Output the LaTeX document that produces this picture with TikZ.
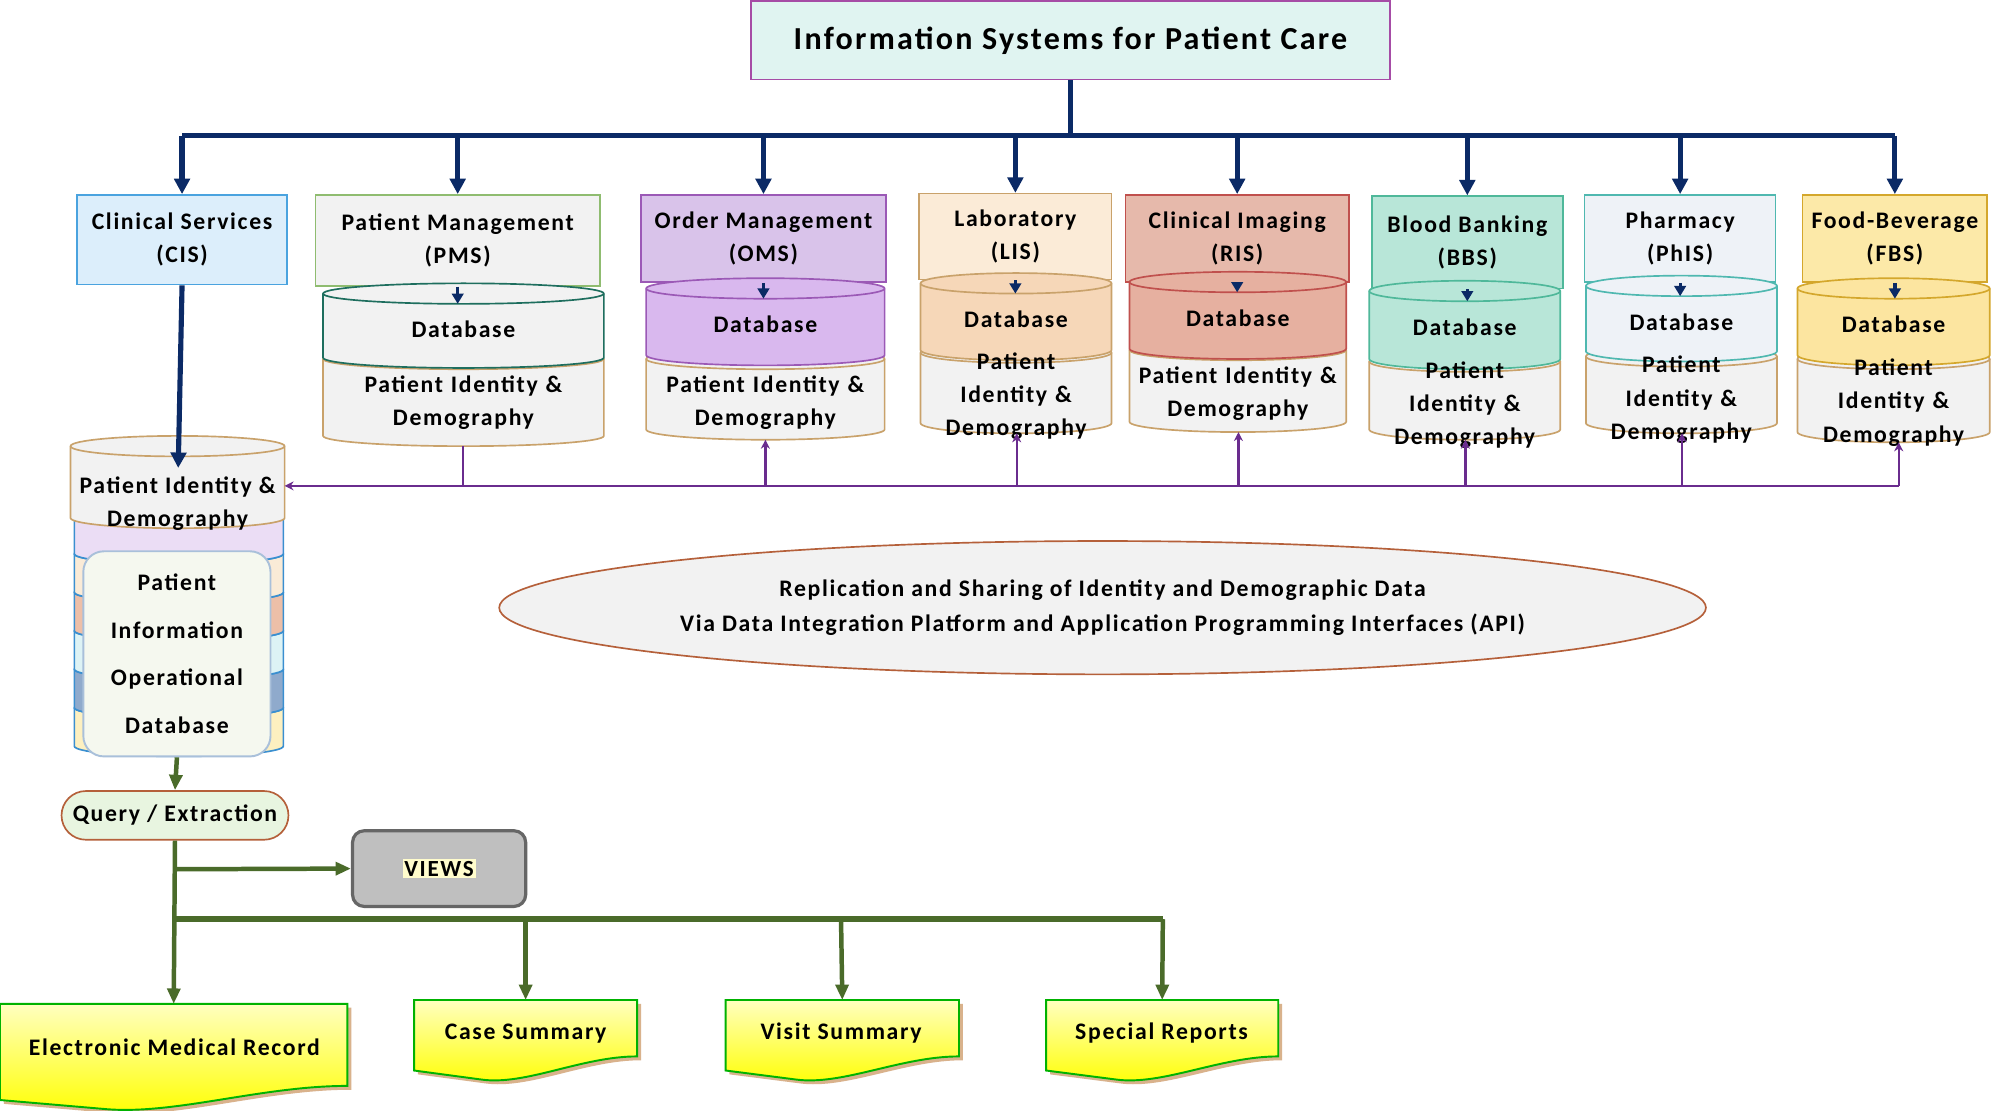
\documentclass[tikz,border=0pt]{standalone}
\usepackage{fontspec}
\setmainfont{Carlito}[LetterSpace=7]
\usetikzlibrary{arrows.meta,shapes.misc,shapes.geometric}
\definecolor{navy}{HTML}{0B2A66}
\definecolor{pur}{HTML}{6A2C8E}
\definecolor{grn}{HTML}{4A6B2A}
\newcommand\mycyl[6]{% x1 ytop x2 ybot fill draw
  \pgfmathsetmacro\rx{(#3-#1)/2}
  \pgfmathsetmacro\yyt{-(#2)}
  \pgfmathsetmacro\yyb{-(#4)}
  \filldraw[fill=#5,draw=#6,line width=1.3pt] (#1,\yyt) -- (#1,\yyb) arc[start angle=180,end angle=360,x radius=\rx pt,y radius=8pt] -- (#3,\yyt) arc[start angle=0,end angle=180,x radius=\rx pt,y radius=8pt] -- cycle;
  \draw[draw=#6,line width=1.3pt] (#1,\yyt) arc[start angle=180,end angle=360,x radius=\rx pt,y radius=8pt];}
\newcommand\mydoc[5]{% x1 ytop x2 ybot name
  \pgfmathsetmacro\w{#3-#1}
  \fill[brown!60!white] (#1+3,-#2-3) -- (#3+3,-#2-3) -- (#3+3,-#4+15) .. controls (#1+0.75*\w+3,-#4+15) and (#1+0.5*\w+3,-#4-8) .. (#1+0.3*\w+3,-#4-3) .. controls (#1+0.15*\w+3,-#4) .. (#1+3,-#4+4) -- cycle;
  \shade[top color=yellow!25,bottom color=yellow] (#1,-#2) -- (#3,-#2) -- (#3,-#4+18) .. controls (#1+0.75*\w,-#4+18) and (#1+0.5*\w,-#4-5) .. (#1+0.3*\w,-#4) .. controls (#1+0.15*\w,-#4+3) .. (#1,-#4+7) -- cycle;
  \draw[draw=green!70!black,line width=1.5pt] (#1,-#2) -- (#3,-#2) -- (#3,-#4+18) .. controls (#1+0.75*\w,-#4+18) and (#1+0.5*\w,-#4-5) .. (#1+0.3*\w,-#4) .. controls (#1+0.15*\w,-#4+3) .. (#1,-#4+7) -- cycle;
  \coordinate (#5) at ({(#1+#3)/2},-#2);}
\begin{document}
\begin{tikzpicture}[x=1pt,y=1pt,font=\bfseries,
  tb/.style={draw,line width=1.2pt,align=center,inner sep=0pt,font=\bfseries\fontsize{18.5}{26}\selectfont},
  lbl/.style={align=center,font=\bfseries\fontsize{18.5}{26}\selectfont},
  nav/.style={navy,line width=4pt,-{Triangle[length=12pt,width=12pt]}},
  navs/.style={navy,line width=2.5pt,-{Triangle[length=8pt,width=9pt]}},
  pa/.style={pur,line width=1.8pt,-{Stealth[length=7pt,width=7pt]}},
  ga/.style={grn,line width=3.5pt,-{Triangle[length=12pt,width=10pt]}}]
\useasboundingbox (0,0) rectangle (1560,-866);
\fill[white] (0,0) rectangle (1560,-866);
% title
\node[draw=violet!70,fill={rgb,255:red,224;green,244;blue,241},line width=1.3pt,minimum width=498pt,minimum height=61pt,font=\bfseries\fontsize{25}{30}\selectfont] (title) at (835,-31.5) {Information Systems for Patient Care};
% top boxes
\def\tbox#1#2#3#4#5#6#7#8#9{\node[tb,fill=#5,draw=#6,minimum width=#3pt,minimum height=#4pt] (#7) at (#1,-#2) {#8\\(#9)};}
\definecolor{c1}{HTML}{DCEEFB}\definecolor{d1}{HTML}{4AA3DF}
\definecolor{c2}{HTML}{F2F2F2}\definecolor{d2}{HTML}{8FBC70}
\definecolor{c3}{HTML}{D9C3EA}\definecolor{d3}{HTML}{9B59B6}
\definecolor{c4}{HTML}{FBEBD7}\definecolor{d4}{HTML}{C9A26B}
\definecolor{c5}{HTML}{E6B9AB}\definecolor{d5}{HTML}{C0504D}
\definecolor{c6}{HTML}{B8E6D8}\definecolor{d6}{HTML}{4FB89A}
\definecolor{c7}{HTML}{EEF2F7}\definecolor{d7}{HTML}{4FB8B0}
\definecolor{c8}{HTML}{FCE9A8}\definecolor{d8}{HTML}{D4A72C}
\tbox{142}{187}{164}{70}{c1}{d1}{cis}{Clinical Services}{CIS}
\tbox{357}{187.5}{222}{71}{c2}{d2}{pms}{Patient Management}{PMS}
\tbox{595.5}{186}{191}{68}{c3}{d3}{oms}{Order Management}{OMS}
\tbox{792}{184.5}{150}{67}{c4}{d4}{lis}{Laboratory}{LIS}
\tbox{965}{186}{174}{68}{c5}{d5}{ris}{Clinical Imaging}{RIS}
\tbox{1144.5}{189}{149}{72}{c6}{d6}{bbs}{Blood Banking}{BBS}
\tbox{1310.5}{186}{149}{68}{c7}{d7}{phis}{Pharmacy}{PhIS}
\tbox{1478}{186}{144}{68}{c8}{d8}{fbs}{Food-Beverage}{FBS}
% main tree
\coordinate (j) at (835,-106);
\draw[navy,line width=4pt] (title.south) -- (j);
\draw[navy,line width=4pt] (142,-106) -- (1478,-106);
\foreach \n in {cis,pms,oms,lis,ris,bbs,phis,fbs}{\draw[nav] (\n.north|-j) -- (\n.north);}
% cylinders
\definecolor{db2}{HTML}{F2F2F2}\definecolor{dd2}{HTML}{1E6E5E}
\definecolor{db3}{HTML}{D9B8EE}\definecolor{db4}{HTML}{F6D7B8}
\definecolor{db5}{HTML}{E6B0A0}\definecolor{db6}{HTML}{B8E6D8}
\definecolor{db7}{HTML}{EEF2F7}\definecolor{db8}{HTML}{FCE5A0}
\def\col#1#2#3#4#5#6#7#8#9{%
  \mycyl{#1}{#5}{#2}{#6}{c2}{d4}
  \mycyl{#1}{#3}{#2}{#4}{#7}{#8}
  \node[lbl] (db#9) at ({(#1+#2)/2},-#3-28) {Database};
  \node[lbl,text width={#2-#1}] (pi#9) at ({(#1+#2)/2},-#5-34) {Patient Identity \&\\ Demography};}
\col{252}{471}{229}{279}{280}{340}{db2}{dd2}{pms}
\col{504}{690}{225}{277}{280}{335}{db3}{d3}{oms}
\col{718}{867}{221}{273}{275}{330}{db4}{d4}{lis}
\col{881}{1050}{220}{272}{273}{329}{db5}{d5}{ris}
\col{1068}{1217}{227}{280}{282}{335}{db6}{d6}{bbs}
\col{1237}{1386}{223}{274}{278}{330}{db7}{d7}{phis}
\col{1402}{1552}{225}{277}{280}{337}{db8}{d8}{fbs}
\foreach \n/\t in {pms/229,oms/225,lis/221,ris/220,bbs/227,phis/223,fbs/225}{\draw[navs] (\n.south) -- (\n.south|-{(0,-\t-8)});}
% left stack
\definecolor{s1}{HTML}{EBDDF5}\definecolor{s2}{HTML}{FAEBD7}\definecolor{s3}{HTML}{EDBFA8}
\definecolor{s4}{HTML}{DDF3F5}\definecolor{s5}{HTML}{8FAACC}\definecolor{s6}{HTML}{FDF0C0}
\definecolor{sb}{HTML}{3A8FD0}
\foreach \c [count=\i] in {s6,s5,s4,s3,s2,s1}{
  \pgfmathsetmacro\yt{582-30*\i}
  \pgfmathsetmacro\yb{612-30*\i}
  \mycyl{58}{\yt}{221}{\yb}{\c}{sb}}
\mycyl{55}{348}{222}{404}{c2}{d4}
\node[lbl] (lpi) at (138.5,-393) {Patient Identity \&\\ Demography};
\node[draw={rgb,255:red,169;green,192;blue,218},fill={rgb,255:red,245;green,248;blue,239},line width=1.5pt,rounded corners=16pt,minimum width=146pt,minimum height=160pt,align=center,font=\bfseries\fontsize{18.5}{37}\selectfont] (piod) at (138,-510) {Patient\\Information\\Operational\\Database};
\coordinate (cisend) at (139,-365);
\draw[nav] (cis.south) -- (cisend);
% purple connectors
\coordinate (pj) at (361,-379);
\draw[pur,line width=1.8pt] (361,-348) -- (pj) -- (1481,-379);
\draw[pa] (pj) -- (222,-379);
\foreach \x/\y in {597/343,793/338,966/337,1143/343,1312/338,1481/345}{\draw[pa] (\x,-379) -- (\x,-\y);}
% ellipse
\node[ellipse,draw={rgb,255:red,181;green,96;blue,58},fill=c2,line width=1.3pt,minimum width=790pt,minimum height=104pt,align=center,font=\bfseries\fontsize{18.5}{27}\selectfont] (rep) at (860,-474) {Replication and Sharing of Identity and Demographic Data\\Via Data Integration Platform and Application Programming Interfaces (API)};
% query
\node[rounded rectangle,draw={rgb,255:red,181;green,96;blue,58},fill={rgb,255:red,232;green,245;blue,224},line width=1.3pt,minimum width=185pt,minimum height=38pt,inner xsep=4pt,font=\bfseries\fontsize{18.5}{20}\selectfont] (qe) at (136.5,-636) {Query / Extraction};
\draw[ga] (piod.south) -- (qe.north);
% views
\node[draw=gray!80!black,fill=gray!50,line width=2.5pt,rounded corners=9pt,minimum width=135pt,minimum height=59pt] (views) at (342.5,-677.5) {};
\node[fill=yellow!20,inner sep=1.5pt,font=\bfseries\fontsize{18}{20}\selectfont] (vt) at (views) {VIEWS};
% documents
\mydoc{0}{783}{271}{865}{emr}
\mydoc{323}{780}{497}{842}{cs}
\mydoc{566}{780}{748}{842}{vs}
\mydoc{816}{780}{997}{842}{sr}
\node[lbl] (emrt) at (136,-817) {Electronic Medical Record};
\node[lbl] (cst) at (410,-806) {Case Summary};
\node[lbl] (vst) at (656,-806) {Visit Summary};
\node[lbl] (srt) at (906,-806) {Special Reports};
% green tree
\coordinate (g1) at (136,-678);
\coordinate (g2) at (136,-717);
\draw[ga] (qe.south) -- (emr);
\draw[ga] (g1) -- (views.west);
\draw[grn,line width=5pt] (g2) -- (907,-717);
\foreach \n/\x in {cs/410,vs/656,sr/907}{\draw[ga] (\x,-717) -- (\n);}
\end{tikzpicture}
\end{document}
